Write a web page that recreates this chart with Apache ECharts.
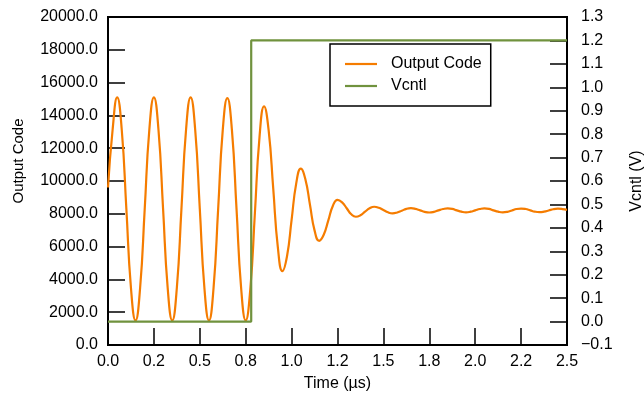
<!DOCTYPE html>
<html>
<head>
<meta charset="utf-8">
<script src="https://cdn.jsdelivr.net/npm/echarts@6/dist/echarts.min.js"></script>
<style>
  html, body { margin: 0; padding: 0; background: #fff; }
  #chart { width: 644px; height: 394px; }
</style>
</head>
<body>
<div id="chart"></div>
<script>
// time samples (µs) and output code
const timeUs = [
  0, 0.025, 0.05, 0.075, 0.1, 0.125, 0.15, 0.175, 0.2, 0.225,
  0.25, 0.275, 0.3, 0.325, 0.35, 0.375, 0.4, 0.425, 0.45, 0.475,
  0.5, 0.525, 0.55, 0.575, 0.6, 0.625, 0.65, 0.675, 0.7, 0.725,
  0.75, 0.775, 0.8, 0.825, 0.85, 0.875, 0.9, 0.925, 0.95, 0.975,
  1.0, 1.025, 1.05, 1.075, 1.1, 1.125, 1.15, 1.175, 1.2, 1.225,
  1.25, 1.275, 1.3, 1.325, 1.35, 1.375, 1.4, 1.425, 1.45, 1.475,
  1.5, 1.525, 1.55, 1.575, 1.6, 1.625, 1.65, 1.675, 1.7, 1.725,
  1.75, 1.775, 1.8, 1.825, 1.85, 1.875, 1.9, 1.925, 1.95, 1.975,
  2.0, 2.025, 2.05, 2.075, 2.1, 2.125, 2.15, 2.175, 2.2, 2.225,
  2.25, 2.275, 2.3, 2.325, 2.35, 2.375, 2.4, 2.425, 2.45, 2.475,
  2.5
];
const outputCode = [
  9600, 13110, 15100, 13110, 8300, 3490, 1500, 3490, 8300, 13110,
  15100, 13110, 8300, 3490, 1500, 3490, 8300, 13110, 15100, 13110,
  8300, 3490, 1500, 3490, 8300, 13100, 15050, 13100, 8300, 3490,
  1500, 3400, 8030, 12650, 14550, 13080, 9530, 5970, 4500, 5410,
  7630, 9840, 10750, 10110, 8550, 6990, 6350, 6720, 7600, 8490,
  8850, 8700, 8340, 7970, 7820, 7910, 8130, 8340, 8430, 8370,
  8230, 8090, 8030, 8080, 8190, 8300, 8340, 8300, 8210, 8120,
  8080, 8120, 8210, 8290, 8330, 8300, 8210, 8130, 8090, 8130,
  8210, 8290, 8330, 8300, 8210, 8130, 8090, 8120, 8200, 8290,
  8320, 8290, 8210, 8130, 8100, 8130, 8200, 8280, 8310, 8290,
  8240
];

// control voltage step
const vcntlTime = [0, 0.78, 0.78, 2.5];
const vcntlVolts = [0, 0, 1.2, 1.2];

const xTickLabels = ["0.0", "0.2", "0.5", "0.8", "1.0", "1.2", "1.5", "1.8", "2.0", "2.2", "2.5"];
const seriesNames = ["Output Code", "Vcntl"];

const FONT = "'Liberation Sans', Arial, sans-serif";
const chart = echarts.init(document.getElementById("chart"));

const tickStyle = { show: true, inside: true, length: 17, lineStyle: { color: "#000", width: 1.5 } };
const lineStyleAxis = { show: true, onZero: false, lineStyle: { color: "#000", width: 2 } };

chart.setOption({
  animation: false,
  backgroundColor: "#fff",
  textStyle: { fontFamily: FONT },
  grid: {
    left: 108, right: 77, top: 17, bottom: 49,
    outerBoundsMode: "none",
    show: true, borderColor: "#000", borderWidth: 2,
  },
  legend: {
    data: seriesNames,
    orient: "vertical",
    left: 330,
    top: 44,
    borderColor: "#000",
    borderWidth: 1.5,
    padding: [12, 9, 12, 15],
    icon: "rect",
    itemWidth: 32,
    itemHeight: 2.2,
    itemGap: 6,
    textStyle: { color: "#000", fontSize: 16, fontFamily: FONT, padding: [0, 0, 0, 9] },
  },
  xAxis: {
    type: "value",
    min: 0,
    max: 2.5,
    interval: 0.25,
    name: "Time (µs)",
    nameLocation: "middle",
    nameGap: 31,
    nameTextStyle: { color: "#000", fontSize: 16 },
    axisLine: lineStyleAxis,
    axisTick: tickStyle,
    splitLine: { show: false },
    axisLabel: {
      color: "#000",
      fontSize: 16,
      margin: 9,
      formatter: (v) => xTickLabels[Math.round(v / 0.25)],
    },
  },
  yAxis: [
    {
      type: "value",
      position: "left",
      min: 0,
      max: 20000,
      interval: 2000,
      name: "Output Code",
      nameLocation: "middle",
      nameGap: 82,
      nameTextStyle: { color: "#000", fontSize: 15, padding: [0, 0, 0, 40] },
      axisLine: lineStyleAxis,
      axisTick: tickStyle,
      splitLine: { show: false },
      axisLabel: { color: "#000", fontSize: 16, margin: 10, formatter: (v) => v.toFixed(1) },
    },
    {
      type: "value",
      position: "right",
      min: -0.1,
      max: 1.3,
      interval: 0.1,
      name: "Vcntl (V)",
      nameLocation: "middle",
      nameGap: 62,
      nameTextStyle: { color: "#000", fontSize: 16 },
      axisLine: lineStyleAxis,
      axisTick: tickStyle,
      splitLine: { show: false },
      axisLabel: {
        color: "#000",
        fontSize: 16,
        margin: 14,
        formatter: (v) => v.toFixed(1).replace("-", "\u2212"),
      },
    },
  ],
  series: [
    {
      name: seriesNames[0],
      type: "line",
      yAxisIndex: 0,
      smooth: true,
      symbol: "none",
      lineStyle: { color: "#f57c00", width: 2.2 },
      itemStyle: { color: "#f57c00" },
      data: timeUs.map((t, i) => [t, outputCode[i]]),
    },
    {
      name: seriesNames[1],
      type: "line",
      yAxisIndex: 1,
      symbol: "none",
      lineStyle: { color: "#70923e", width: 2.2 },
      itemStyle: { color: "#70923e" },
      data: vcntlTime.map((t, i) => [t, vcntlVolts[i]]),
    },
  ],
});
</script>
</body>
</html>
